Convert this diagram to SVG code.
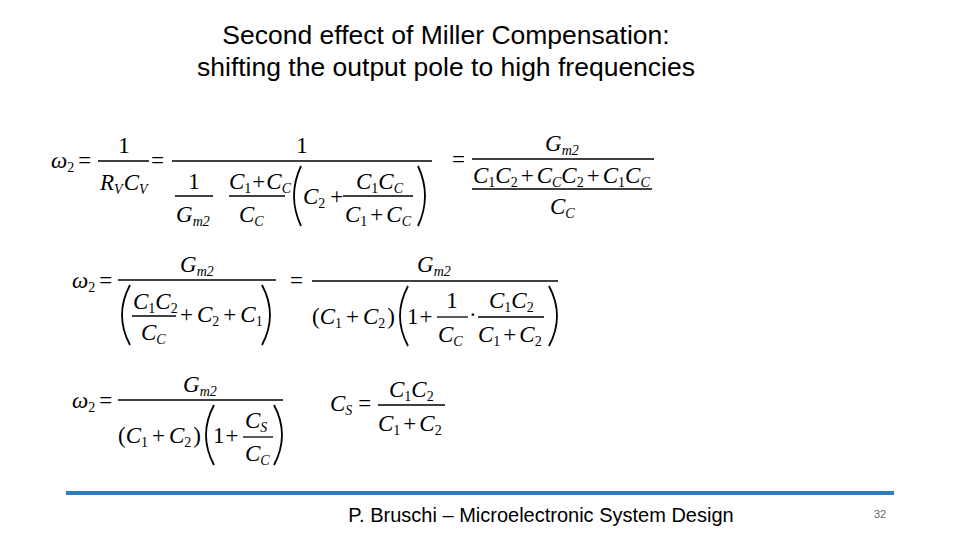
<svg xmlns="http://www.w3.org/2000/svg" width="960" height="540" viewBox="0 0 960 540">
<style>
.t{font-family:"Liberation Sans",Arial,sans-serif;font-size:26.5px;fill:#000}
.m{font-family:"Liberation Serif","Times New Roman",serif;font-style:italic;font-size:23px;fill:#000}
.u{font-style:normal}
.s{font-size:14px}
.b{stroke:#000;stroke-width:1.3}
.p{fill:none;stroke:#000;stroke-width:1.8}
</style>
<rect width="960" height="540" fill="#fff"/>
<text class="t" x="446" y="44" text-anchor="middle">Second effect of Miller Compensation:</text>
<text class="t" x="446" y="76" text-anchor="middle">shifting the output pole to high frequencies</text>

<g id="eq1">
<text class="m" x="51" y="168">ω<tspan class="s u" dy="4">2</tspan><tspan class="u" dy="-4" dx="4">=</tspan></text>
<text class="m u" x="124" y="153" text-anchor="middle">1</text>
<line class="b" x1="98" y1="161" x2="149" y2="161"/>
<text class="m" x="100" y="190">R<tspan class="s" dy="4">V</tspan><tspan dy="-4" dx="1">C</tspan><tspan class="s" dy="4">V</tspan></text>
<text class="m u" x="151" y="168">=</text>
<line class="b" x1="172" y1="161" x2="432" y2="161"/>
<text class="m u" x="302" y="153" text-anchor="middle">1</text>
<text class="m u" x="194" y="189" text-anchor="middle">1</text>
<line class="b" x1="175" y1="196" x2="213" y2="196"/>
<text class="m" x="176" y="222">G<tspan class="s" dy="4">m2</tspan></text>
<text class="m" x="229" y="189">C<tspan class="s u" dy="4">1</tspan><tspan class="u" dy="-4" dx="1">+</tspan><tspan dx="1">C</tspan><tspan class="s" dy="4">C</tspan></text>
<line class="b" x1="229" y1="196" x2="285" y2="196"/>
<text class="m" x="239" y="222">C<tspan class="s" dy="4">C</tspan></text>
<path class="p" d="M301,166 Q287,196 301,226"/>
<text class="m" x="303" y="204">C<tspan class="s u" dy="4">2</tspan><tspan class="u" dy="-4" dx="5">+</tspan></text>
<text class="m" x="356" y="189">C<tspan class="s u" dy="4">1</tspan><tspan dy="-4">C</tspan><tspan class="s" dy="4">C</tspan></text>
<line class="b" x1="343" y1="196" x2="413" y2="196"/>
<text class="m" x="345" y="222">C<tspan class="s u" dy="4">1</tspan><tspan class="u" dy="-4" dx="3">+</tspan><tspan dx="3">C</tspan><tspan class="s" dy="4">C</tspan></text>
<path class="p" d="M418,166 Q432,196 418,226"/>
<text class="m u" x="452" y="167">=</text>
<text class="m" x="545" y="151">G<tspan class="s" dy="4">m2</tspan></text>
<line class="b" x1="472" y1="159" x2="654" y2="159"/>
<text class="m" x="473" y="183">C<tspan class="s u" dy="4">1</tspan><tspan dy="-4">C</tspan><tspan class="s u" dy="4">2</tspan><tspan class="u" dy="-4" dx="3">+</tspan><tspan dx="3">C</tspan><tspan class="s" dy="4">C</tspan><tspan dy="-4">C</tspan><tspan class="s u" dy="4">2</tspan><tspan class="u" dy="-4" dx="3">+</tspan><tspan dx="3">C</tspan><tspan class="s u" dy="4">1</tspan><tspan dy="-4">C</tspan><tspan class="s" dy="4">C</tspan></text>
<line class="b" x1="472" y1="189" x2="652" y2="189"/>
<text class="m" x="550" y="214">C<tspan class="s" dy="4">C</tspan></text>
</g>

<g id="eq2">
<text class="m" x="72" y="288">ω<tspan class="s u" dy="4">2</tspan><tspan class="u" dy="-4" dx="4">=</tspan></text>
<text class="m" x="180" y="272">G<tspan class="s" dy="4">m2</tspan></text>
<line class="b" x1="118" y1="280" x2="276" y2="280"/>
<path class="p" d="M130,285 Q114,315 130,345"/>
<text class="m" x="133" y="309">C<tspan class="s u" dy="4">1</tspan><tspan dy="-4">C</tspan><tspan class="s u" dy="4">2</tspan></text>
<line class="b" x1="132" y1="316" x2="176" y2="316"/>
<text class="m" x="141" y="340">C<tspan class="s" dy="4">C</tspan></text>
<text class="m" x="180" y="322"><tspan class="u">+</tspan><tspan dx="4">C</tspan><tspan class="s u" dy="4">2</tspan><tspan class="u" dy="-4" dx="4">+</tspan><tspan dx="4">C</tspan><tspan class="s u" dy="4">1</tspan></text>
<path class="p" d="M262,285 Q278,315 262,345"/>
<text class="m u" x="290" y="288">=</text>
<text class="m" x="417" y="272">G<tspan class="s" dy="4">m2</tspan></text>
<line class="b" x1="312" y1="281" x2="558" y2="281"/>
<text class="m" x="312" y="324"><tspan class="u">(</tspan>C<tspan class="s u" dy="4">1</tspan><tspan class="u" dy="-4" dx="4">+</tspan><tspan dx="4">C</tspan><tspan class="s u" dy="4">2</tspan><tspan class="u" dy="-4" dx="2">)</tspan></text>
<path class="p" d="M408,286 Q392,316 408,346"/>
<text class="m u" x="407" y="324">1<tspan dx="1">+</tspan></text>
<text class="m u" x="452" y="308" text-anchor="middle">1</text>
<line class="b" x1="437" y1="317" x2="468" y2="317"/>
<text class="m" x="438" y="342">C<tspan class="s" dy="4">C</tspan></text>
<text class="m u" x="469" y="322">·</text>
<text class="m" x="489" y="308">C<tspan class="s u" dy="4">1</tspan><tspan dy="-4">C</tspan><tspan class="s u" dy="4">2</tspan></text>
<line class="b" x1="478" y1="317" x2="544" y2="317"/>
<text class="m" x="478" y="342">C<tspan class="s u" dy="4">1</tspan><tspan class="u" dy="-4" dx="3">+</tspan><tspan dx="3">C</tspan><tspan class="s u" dy="4">2</tspan></text>
<path class="p" d="M549,286 Q565,316 549,346"/>
</g>

<g id="eq3">
<text class="m" x="72" y="408">ω<tspan class="s u" dy="4">2</tspan><tspan class="u" dy="-4" dx="4">=</tspan></text>
<text class="m" x="183" y="392">G<tspan class="s" dy="4">m2</tspan></text>
<line class="b" x1="118" y1="400" x2="283" y2="400"/>
<text class="m" x="118" y="443"><tspan class="u">(</tspan>C<tspan class="s u" dy="4">1</tspan><tspan class="u" dy="-4" dx="4">+</tspan><tspan dx="4">C</tspan><tspan class="s u" dy="4">2</tspan><tspan class="u" dy="-4" dx="2">)</tspan></text>
<path class="p" d="M214,405 Q198,435 214,465"/>
<text class="m u" x="213" y="443">1<tspan dx="1">+</tspan></text>
<text class="m" x="245" y="428">C<tspan class="s" dy="4">S</tspan></text>
<line class="b" x1="243" y1="437" x2="273" y2="437"/>
<text class="m" x="245" y="461">C<tspan class="s" dy="4">C</tspan></text>
<path class="p" d="M274,405 Q290,435 274,465"/>
<text class="m" x="330" y="411">C<tspan class="s" dy="4">S</tspan><tspan class="u" dy="-4" dx="6">=</tspan></text>
<text class="m" x="389" y="397">C<tspan class="s u" dy="4">1</tspan><tspan dy="-4">C</tspan><tspan class="s u" dy="4">2</tspan></text>
<line class="b" x1="378" y1="405" x2="445" y2="405"/>
<text class="m" x="378" y="431">C<tspan class="s u" dy="4">1</tspan><tspan class="u" dy="-4" dx="3">+</tspan><tspan dx="3">C</tspan><tspan class="s u" dy="4">2</tspan></text>
</g>

<line x1="66" y1="493" x2="894" y2="493" stroke="#2E7BC4" stroke-width="4"/>
<text x="541" y="522" text-anchor="middle" style="font-family:'Liberation Sans',Arial,sans-serif;font-size:20px">P. Bruschi – Microelectronic System Design</text>
<text x="880" y="518" text-anchor="middle" style="font-family:'Liberation Sans',Arial,sans-serif;font-size:11px;fill:#666">32</text>
</svg>
